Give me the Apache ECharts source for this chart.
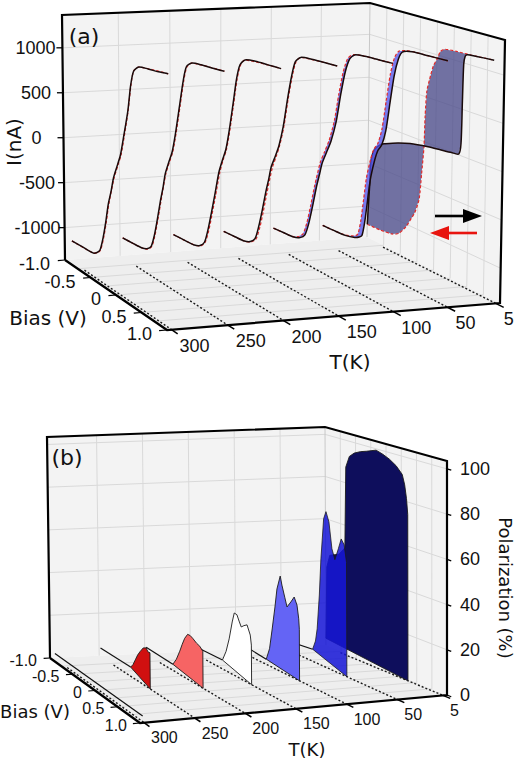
<!DOCTYPE html>
<html>
<head>
<meta charset="utf-8">
<script src="https://cdn.jsdelivr.net/npm/echarts@6.0.0/dist/echarts.min.js"></script>
<style>html,body{margin:0;padding:0;background:#fff;}#chart{width:520px;height:765px;}</style>
</head>
<body>
<div id="chart"></div>
<script>
// ====================== DATA ======================
// Panel (a): I-V sweeps, points are [bias (V), current (nA)]
const tempsA = [300, 250, 200, 150, 100, 50, 5];
const fw300 = [[-0.94,-1128],[-0.75,-1118],[-0.53,-1109],[-0.45,-1075],[-0.39,-1027],[-0.325,-867],[-0.27,-680],[-0.22,-482],[-0.16,-320],[-0.11,-164],[-0.03,-5],[0.03,118],[0.09,311],[0.18,613],[0.24,896],[0.30,1054],[0.40,1117],[0.58,1136],[0.78,1150],[0.97,1170]];
const rv300 = [[-0.94,-1128],[-0.53,-1109],[-0.44,-1075],[-0.38,-1027],[-0.315,-867],[-0.26,-680],[-0.21,-482],[-0.10,-164],[-0.02,-5],[0.04,118],[0.10,311],[0.185,613],[0.245,896],[0.30,1054],[0.40,1117],[0.97,1170]];
const fw250 = [[-0.95,-1140],[-0.75,-1130],[-0.6,-1120],[-0.5,-1095],[-0.42,-1040],[-0.36,-900],[-0.3,-700],[-0.24,-480],[-0.19,-320],[-0.15,-170],[-0.08,-20],[-0.02,100],[0.04,300],[0.12,620],[0.19,900],[0.25,1060],[0.35,1120],[0.52,1140],[0.72,1150],[0.95,1165]];
const rv250 = [[-0.95,-1140],[-0.6,-1120],[-0.49,-1095],[-0.41,-1040],[-0.35,-900],[-0.29,-700],[-0.23,-480],[-0.14,-170],[-0.07,-20],[-0.01,100],[0.05,300],[0.13,620],[0.2,900],[0.26,1060],[0.35,1120],[0.95,1165]];
const fw200 = [[-0.95,-1145],[-0.75,-1135],[-0.58,-1125],[-0.48,-1095],[-0.4,-1030],[-0.34,-880],[-0.28,-680],[-0.22,-470],[-0.18,-320],[-0.14,-180],[-0.08,-40],[-0.02,90],[0.04,310],[0.11,620],[0.17,890],[0.23,1050],[0.32,1120],[0.5,1145],[0.72,1155],[0.95,1165]];
const rv200 = [[-0.95,-1145],[-0.58,-1125],[-0.47,-1095],[-0.39,-1030],[-0.325,-880],[-0.265,-680],[-0.205,-470],[-0.125,-180],[-0.07,-40],[-0.01,90],[0.05,310],[0.12,620],[0.18,890],[0.24,1050],[0.32,1120],[0.95,1165]];
const fw150 = [[-0.95,-1150],[-0.75,-1140],[-0.6,-1130],[-0.5,-1100],[-0.42,-1040],[-0.36,-890],[-0.3,-690],[-0.24,-470],[-0.19,-310],[-0.15,-170],[-0.08,-30],[-0.02,100],[0.05,320],[0.12,630],[0.19,900],[0.25,1060],[0.34,1125],[0.52,1145],[0.72,1155],[0.95,1165]];
const rv150 = [[-0.95,-1150],[-0.6,-1130],[-0.49,-1100],[-0.405,-1040],[-0.34,-890],[-0.28,-690],[-0.22,-470],[-0.13,-170],[-0.065,-30],[-0.01,100],[0.06,320],[0.13,630],[0.2,900],[0.26,1060],[0.34,1125],[0.95,1165]];
const fw100 = [[-0.95,-1155],[-0.78,-1145],[-0.62,-1135],[-0.52,-1105],[-0.44,-1045],[-0.38,-900],[-0.32,-690],[-0.26,-460],[-0.21,-300],[-0.17,-170],[-0.1,-30],[-0.03,110],[0.05,340],[0.12,650],[0.19,910],[0.26,1065],[0.34,1125],[0.5,1145],[0.72,1155],[0.95,1165]];
const rv100 = [[-0.95,-1155],[-0.64,-1135],[-0.55,-1105],[-0.47,-1045],[-0.41,-900],[-0.35,-690],[-0.29,-460],[-0.2,-170],[-0.13,-30],[-0.06,110],[0.02,340],[0.09,650],[0.16,910],[0.23,1065],[0.32,1125],[0.5,1145],[0.95,1165]];
const fw50 = [[-0.95,-1165],[-0.78,-1160],[-0.6,-1150],[-0.45,-1120],[-0.38,-1090],[-0.34,-1060],[-0.3,-900],[-0.26,-650],[-0.22,-400],[-0.16,-180],[-0.11,-50],[-0.05,30],[0.01,200],[0.07,520],[0.13,830],[0.19,1020],[0.25,1110],[0.4,1145],[0.65,1155],[0.95,1165]];
const rv50 = [[-0.95,-1165],[-0.62,-1150],[-0.5,-1120],[-0.43,-1090],[-0.4,-1060],[-0.36,-900],[-0.32,-650],[-0.28,-400],[-0.22,-180],[-0.17,-50],[-0.11,30],[-0.05,200],[0.01,520],[0.07,830],[0.13,1020],[0.2,1110],[0.36,1145],[0.65,1155],[0.95,1165]];
const fw5 = [[-0.94,-1186],[-0.925,-927],[-0.91,-692],[-0.9,-460],[-0.85,-296],[-0.75,-200],[-0.69,-175],[-0.5,-110],[-0.32,-63],[-0.05,-20],[0.12,-2],[0.3,15],[0.41,30],[0.44,150],[0.45,600],[0.46,1000],[0.48,1090],[0.51,1114],[0.65,1125],[0.91,1140]];
const rv5 = [[-0.94,-1186],[-0.75,-1180],[-0.57,-1161],[-0.47,-1120],[-0.39,-1039],[-0.35,-990],[-0.28,-880],[-0.23,-800],[-0.17,-629],[-0.14,-350],[-0.11,-33],[-0.1,300],[-0.08,583],[-0.04,730],[0.01,880],[0.07,980],[0.11,1060],[0.17,1100],[0.35,1115],[0.65,1125],[0.91,1140]];

// Panel (b): polarization, points are [bias (V), polarization (%)]
const tempsB = [300, 250, 200, 150, 100, 50, 5];
const pol300 = [[-0.97,2.5],[0.97,2.5]];
const base250 = [[-0.97,4.0],[-0.34,4.2]];
const pol250 = [[-0.34,4.2],[-0.29,6.0],[-0.24,8.9],[-0.19,11.8],[-0.14,14.0],[-0.07,16.7],[-0.01,17.5],[0.03,16.2],[0.07,16.4]];
const base200 = [[-0.97,3.4],[-0.44,2.8]];
const pol200 = [[-0.44,2.8],[-0.37,6.0],[-0.30,10.7],[-0.25,14.5],[-0.20,17.9],[-0.14,20.5],[-0.09,20.6],[-0.04,20.0],[0.04,18.7],[0.10,18.2],[0.16,16.7]];
const base150 = [[-0.97,3.5],[-0.39,4.1]];
const pol150 = [[-0.39,4.1],[-0.32,9.0],[-0.26,15.5],[-0.20,24.0],[-0.16,28.6],[-0.11,28.4],[-0.07,26.0],[-0.03,23.8],[0.02,25.0],[0.08,26.1],[0.14,22.2],[0.16,17.9]];
const base100 = [[-0.97,4.0],[-0.45,2.4]];
const pol100 = [[-0.45,2.4],[-0.39,8.0],[-0.34,17.7],[-0.29,28.0],[-0.25,37.2],[-0.19,43.8],[-0.16,40.0],[-0.11,35.0],[-0.07,31.0],[0.0,34.1],[0.06,37.0],[0.11,33.9],[0.14,28.0],[0.15,23.4]];
const base50 = [[-0.97,4.0],[-0.46,5.6]];
const pol50 = [[-0.46,5.6],[-0.41,10.0],[-0.38,16.0],[-0.34,32.1],[-0.31,49.2],[-0.26,68.2],[-0.22,71.8],[-0.17,67.6],[-0.12,55.7],[-0.07,51.2],[-0.01,56.8],[0.04,61.8],[0.09,59.6],[0.13,52.0]];
const pol5 = [[-0.94,4],[-0.92,38],[-0.87,44],[-0.72,46],[-0.62,50],[-0.6,88],[-0.54,93.5],[-0.46,95.7],[-0.36,97.2],[-0.26,98.2],[-0.1,100],[0.01,99],[0.12,97.6],[0.23,95.5],[0.33,92.4],[0.37,88],[0.4,82],[0.42,75]];

// Tick values / labels
const currentTicks = [-1000, -500, 0, 500, 1000];
const polTicks = [0, 20, 40, 60, 80, 100];
const tempTicks = [300, 250, 200, 150, 100, 50, 5];
const biasTicks = [-1.0, -0.5, 0, 0.5, 1.0];
const biasTickLabels = ['-1.0', '-0.5', '0', '0.5', '1.0'];
const gridTemps = [250, 200, 150, 100, 50];
const gridBias = [-0.75, -0.5, -0.25, 0, 0.25, 0.5, 0.75];

// ====================== LAYOUT (perspective boxes) ======================
const TL = 304, TR = 1; // temperature at left / right box faces
const boxA = { bl0:[65,260], bl1:[62,15], fl0:[167,330], fl1:[165,55],
               br0:[367,237], br1:[370,3], fr0:[500,303], fr1:[505,40],
               zMin:-1360, zMax:1365, warp:1.03 };
const boxB = { bl0:[50,658], bl1:[47,437], fl0:[140,723], fl1:[138,486],
               br0:[326,645], br1:[325,427], fr0:[447,695], fr1:[447,461],
               zMin:0, zMax:103.5, warp:1.0 };
function lerp(a, b, t) { return [a[0] + (b[0]-a[0])*t, a[1] + (b[1]-a[1])*t]; }
function proj(box, T, V, z) {
  let u = (TL - T) / (TL - TR);
  u = box.warp * u / (1 + (box.warp - 1) * u);
  const w = (V + 1) / 2, h = (z - box.zMin) / (box.zMax - box.zMin);
  const f = lerp(lerp(box.bl0, box.fl0, w), lerp(box.br0, box.fr0, w), u);
  const t = lerp(lerp(box.bl1, box.fl1, w), lerp(box.br1, box.fr1, w), u);
  return lerp(f, t, h);
}

const WALL = '#f3f3f3', FLOOR = '#eeeeee', GRID = '#d9d9d9';
const F18 = "18px 'Liberation Sans', Arial, sans-serif";
const F16 = "16px 'Liberation Sans', Arial, sans-serif";
const T20 = "20px 'DejaVu Sans', Verdana, sans-serif";
const T18 = "18px 'DejaVu Sans', Verdana, sans-serif";
const T22 = "22px 'DejaVu Sans', Verdana, sans-serif";

const shapes = [];
function line(pts, stroke, lw, dash, smooth) { shapes.push({k:'line', pts, stroke, lw, dash: dash || null, smooth: smooth || 0}); }
function poly(pts, fill, opt) { shapes.push(Object.assign({k:'poly', pts, fill}, opt || {})); }
function text(p, str, font, align, rot) { shapes.push({k:'text', p, str, font, align: align || 'center', rot: rot || 0}); }
function off(p, dx, dy) { return [p[0] + dx, p[1] + dy]; }

function drawWalls(box, zGrid) {
  const P = (T, V, z) => proj(box, T, V, z), z0 = box.zMin, z1 = box.zMax;
  poly([P(TL,-1,z0), P(TR,-1,z0), P(TR,-1,z1), P(TL,-1,z1)], WALL);
  poly([P(TR,-1,z0), P(TR,1,z0), P(TR,1,z1), P(TR,-1,z1)], WALL);
  poly([P(TL,-1,z0), P(TR,-1,z0), P(TR,1,z0), P(TL,1,z0)], FLOOR);
  gridTemps.forEach(T => line([P(T,-1,z0), P(T,-1,z1)], GRID, 1));
  zGrid.forEach(z => { line([P(TL,-1,z), P(TR,-1,z)], GRID, 1); line([P(TR,-1,z), P(TR,1,z)], GRID, 1); });
  gridBias.forEach(V => { line([P(TR,V,z0), P(TR,V,z1)], GRID, 1); line([P(TL,V,z0), P(TR,V,z0)], GRID, 1); });
  line([P(TR,-1,z0), P(TR,-1,z1)], '#c8c8c8', 1);
}
function drawDotted(box, temps) {
  temps.forEach(T => line([proj(box,T,-0.7,box.zMin), proj(box,T,1,box.zMin)], '#1a1a1a', 1.4, [2,2]));
}
function drawFrame(box) {
  const P = (T, V, z) => proj(box, T, V, z), z0 = box.zMin, z1 = box.zMax;
  line([P(TL,-1,z0), P(TL,-1,z1), P(TR,-1,z1), P(TR,1,z1), P(TR,1,z0), P(TL,1,z0), P(TL,-1,z0)], '#000', 2.2);
}
function pts(box, T, arr) { return arr.map(d => proj(box, T, d[0], d[1])); }

// ---------------- Panel (a) ----------------
drawWalls(boxA, currentTicks);
drawDotted(boxA, tempsA);
const curvesA = [
  {T: tempsA[6], fw: fw5,   rv: rv5,   fill: 'rgb(70,70,135)', op: 0.75},
  {T: tempsA[5], fw: fw50,  rv: rv50,  fill: 'rgb(80,80,235)', op: 0.75},
  {T: tempsA[4], fw: fw100, rv: rv100, fill: 'rgb(80,80,235)', op: 0.75},
  {T: tempsA[3], fw: fw150, rv: rv150},
  {T: tempsA[2], fw: fw200, rv: rv200},
  {T: tempsA[1], fw: fw250, rv: rv250},
  {T: tempsA[0], fw: fw300, rv: rv300}
];
curvesA.forEach(c => {
  const f = pts(boxA, c.T, c.fw), r = pts(boxA, c.T, c.rv);
  if (c.fill) poly(f.concat(r.slice().reverse()), c.fill, {op: c.op, smooth: 0});
  line(r, '#e02a2a', 1.2, [3,2], 0.25);
  line(f, '#1a0a0a', 1.5, null, 0.25);
});
drawFrame(boxA);
currentTicks.forEach(z => { const p = proj(boxA, TL, -1, z); line([p, off(p,-6,0)], '#000', 1.3); text(off(p,-27,0), String(z), F18, 'center'); });
tempTicks.forEach(T => { const a = proj(boxA,T,1,boxA.zMin); line([a, proj(boxA,T,1.12,boxA.zMin)], '#000', 1.5); text(off(a,8,16), String(T), F18, 'left'); });
biasTicks.forEach((V,i) => { const a = proj(boxA,TL,V,boxA.zMin); line([a, proj(boxA,TL+7,V,boxA.zMin)], '#000', 1.2); text(off(a,-15,4), biasTickLabels[i], F18, 'right'); });
text([14,142], 'I(nA)', T20, 'center', Math.PI/2);
text([48,318], 'Bias (V)', T20, 'center');
text([350,362], 'T(K)', T20, 'center');
text([84,36], '(a)', T22, 'center');
// sweep-direction arrows
line([[435,216],[466,216]], '#000', 2.6);
poly([[463,209],[482,216],[463,223]], '#000');
line([[477,233],[446,233]], '#e8140f', 2.6);
poly([[449,226],[430,233],[449,240]], '#e8140f');

// ---------------- Panel (b) ----------------
drawWalls(boxB, polTicks.filter(p => p > 0));
drawDotted(boxB, tempsB);
const ribbonsB = [
  {T: tempsB[6], base: null,    pol: pol5,   fill: 'rgb(14,14,92)',   op: 1},
  {T: tempsB[5], base: base50,  pol: pol50,  fill: 'rgb(22,22,214)',  op: 0.86},
  {T: tempsB[4], base: base100, pol: pol100, fill: 'rgb(100,100,245)',op: 1},
  {T: tempsB[3], base: base150, pol: pol150, fill: '#ffffff',         op: 1},
  {T: tempsB[2], base: base200, pol: pol200, fill: 'rgb(246,100,100)',op: 1},
  {T: tempsB[1], base: base250, pol: pol250, fill: 'rgb(208,16,16)',  op: 1}
];
ribbonsB.forEach(r => {
  if (r.base) line(pts(boxB, r.T, r.base), '#111', 1.2);
  const p = pts(boxB, r.T, r.pol);
  const last = r.pol[r.pol.length - 1];
  p.push(proj(boxB, r.T, last[0], 0));
  poly(p, r.fill, {op: r.op, stroke: '#1a1a1a', lw: 0.9});
});
line(pts(boxB, tempsB[0], pol300), '#111', 1.2);
drawFrame(boxB);
polTicks.forEach(z => { const a = proj(boxB,TR,1,z); line([a, proj(boxB,TR,1.07,z)], '#000', 1.3); text(off(a,13,0), String(z), F18, 'left'); });
tempTicks.forEach(T => { const a = proj(boxB,T,1,0); line([a, proj(boxB,T,1.12,0)], '#000', 1.5); text(off(a,7,15), String(T), F16, 'left'); });
biasTicks.forEach((V,i) => { const a = proj(boxB,TL,V,0); line([a, proj(boxB,TL+7,V,0)], '#000', 1.2); text(off(a,-13,2), biasTickLabels[i], F16, 'right'); });
text([67,457], '(b)', T22, 'center');
text([35,711], 'Bias (V)', T18, 'center');
text([307,749], 'T(K)', T18, 'center');
text([505,588], 'Polarization (%)', T18, 'center', -Math.PI/2);

// ====================== CHART ======================
const chart = echarts.init(document.getElementById('chart'), null, {renderer: 'svg', width: 520, height: 765});
chart.setOption({
  animation: false,
  backgroundColor: '#ffffff',
  grid: {left: 0, right: 0, top: 0, bottom: 0},
  xAxis: {type: 'value', min: 0, max: 520, show: false},
  yAxis: {type: 'value', min: 0, max: 765, inverse: true, show: false},
  series: [{
    type: 'custom',
    coordinateSystem: 'cartesian2d',
    silent: true,
    clip: false,
    data: shapes.map((s, i) => [i, 0]),
    renderItem: function (params, api) {
      const s = shapes[params.dataIndex];
      if (s.k === 'text') {
        const p = api.coord(s.p);
        return {type: 'text', x: p[0], y: p[1], rotation: s.rot,
                style: {text: s.str, font: s.font, fill: '#111', align: s.align, verticalAlign: 'middle'}};
      }
      const q = s.pts.map(p => api.coord(p));
      if (s.k === 'poly') {
        return {type: 'polygon', shape: {points: q, smooth: s.smooth || 0},
                style: {fill: s.fill, stroke: s.stroke || null, lineWidth: s.lw || 0, opacity: s.op == null ? 1 : s.op}};
      }
      return {type: 'polyline', shape: {points: q, smooth: s.smooth || 0},
              style: {stroke: s.stroke, lineWidth: s.lw, lineDash: s.dash, fill: null}};
    }
  }]
});
</script>
</body>
</html>
